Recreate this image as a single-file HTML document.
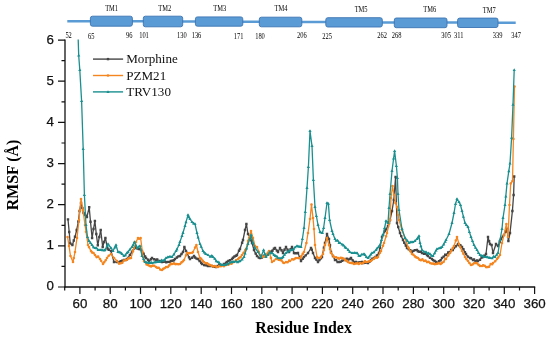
<!DOCTYPE html>
<html><head><meta charset="utf-8"><title>RMSF</title>
<style>
html,body{margin:0;padding:0;background:#fff}
svg{display:block}
.tk{font-family:"Liberation Sans",sans-serif;font-size:13.3px;fill:#111;stroke:#111;stroke-width:0.25px}
.al{font-family:"Liberation Serif",serif;font-weight:bold;font-size:15.9px;fill:#000}
.lg{font-family:"Liberation Serif",serif;font-size:13.1px;fill:#111}
.tm{font-family:"Liberation Serif",serif;font-size:7.2px;fill:#000}
.nm{font-family:"Liberation Serif",serif;font-size:7.2px;fill:#000}
</style></head><body>
<svg width="550" height="340" viewBox="0 0 550 340">
<rect width="550" height="340" fill="#fff"/>
<path d="M67.3 21.30H91.0M132.0 21.35H144.0M182.0 21.50H196.0M242.0 21.80H260.0M301.0 22.10H327.0M381.0 22.40H396.0M446.0 22.60H459.0M497.0 22.70H515.7" stroke="#5b9bd5" stroke-width="2.5" fill="none"/><rect x="90.4" y="16.2" width="42.0" height="10.0" rx="2" fill="#5b9bd5" stroke="#3b75b3" stroke-width="0.9"/><text transform="translate(111.6 11.2) scale(0.9 1)" text-anchor="middle" class="tm">TM1</text><rect x="143.3" y="16.2" width="39.4" height="10.6" rx="2" fill="#5b9bd5" stroke="#3b75b3" stroke-width="0.9"/><text transform="translate(164.8 11.4) scale(0.9 1)" text-anchor="middle" class="tm">TM2</text><rect x="195.4" y="16.9" width="47.4" height="9.3" rx="2" fill="#5b9bd5" stroke="#3b75b3" stroke-width="0.9"/><text transform="translate(219.8 11.4) scale(0.9 1)" text-anchor="middle" class="tm">TM3</text><rect x="259.3" y="17.2" width="42.5" height="9.6" rx="2" fill="#5b9bd5" stroke="#3b75b3" stroke-width="0.9"/><text transform="translate(281.0 11.1) scale(0.9 1)" text-anchor="middle" class="tm">TM4</text><rect x="325.8" y="17.7" width="56.5" height="9.3" rx="2" fill="#5b9bd5" stroke="#3b75b3" stroke-width="0.9"/><text transform="translate(361.1 11.9) scale(0.9 1)" text-anchor="middle" class="tm">TM5</text><rect x="394.3" y="18.0" width="52.7" height="9.7" rx="2" fill="#5b9bd5" stroke="#3b75b3" stroke-width="0.9"/><text transform="translate(429.8 11.9) scale(0.9 1)" text-anchor="middle" class="tm">TM6</text><rect x="457.6" y="18.1" width="40.4" height="9.4" rx="2" fill="#5b9bd5" stroke="#3b75b3" stroke-width="0.9"/><text transform="translate(489.3 13.0) scale(0.9 1)" text-anchor="middle" class="tm">TM7</text><text transform="translate(68.6 38.2) scale(0.9 1)" text-anchor="middle" class="nm">52</text><text transform="translate(91.3 38.8) scale(0.9 1)" text-anchor="middle" class="nm">65</text><text transform="translate(129.2 37.9) scale(0.9 1)" text-anchor="middle" class="nm">96</text><text transform="translate(144.0 38.2) scale(0.9 1)" text-anchor="middle" class="nm">101</text><text transform="translate(181.8 38.2) scale(0.9 1)" text-anchor="middle" class="nm">130</text><text transform="translate(196.5 38.0) scale(0.9 1)" text-anchor="middle" class="nm">136</text><text transform="translate(238.7 39.0) scale(0.9 1)" text-anchor="middle" class="nm">171</text><text transform="translate(260.0 38.8) scale(0.9 1)" text-anchor="middle" class="nm">180</text><text transform="translate(301.9 38.4) scale(0.9 1)" text-anchor="middle" class="nm">206</text><text transform="translate(327.2 39.2) scale(0.9 1)" text-anchor="middle" class="nm">225</text><text transform="translate(382.2 37.9) scale(0.9 1)" text-anchor="middle" class="nm">262</text><text transform="translate(396.6 38.4) scale(0.9 1)" text-anchor="middle" class="nm">268</text><text transform="translate(446.1 37.7) scale(0.9 1)" text-anchor="middle" class="nm">305</text><text transform="translate(458.7 37.8) scale(0.9 1)" text-anchor="middle" class="nm">311</text><text transform="translate(497.7 37.9) scale(0.9 1)" text-anchor="middle" class="nm">339</text><text transform="translate(516.2 38.4) scale(0.9 1)" text-anchor="middle" class="nm">347</text>
<path d="M65 39.5V287.6" stroke="#111" stroke-width="1.3" fill="none"/><path d="M64.4 287.0H535.2" stroke="#111" stroke-width="1.3" fill="none"/><path d="M58 287.0H65M61.5 266.4H65M58 245.8H65M61.5 225.3H65M58 204.7H65M61.5 184.1H65M58 163.6H65M61.5 143.0H65M58 122.4H65M61.5 101.8H65M58 81.2H65M61.5 60.7H65M58 40.1H65M64.7 287.0v3.5M79.9 287.0v7M95.1 287.0v3.5M110.2 287.0v7M125.4 287.0v3.5M140.5 287.0v7M155.7 287.0v3.5M170.8 287.0v7M186.0 287.0v3.5M201.2 287.0v7M216.3 287.0v3.5M231.5 287.0v7M246.6 287.0v3.5M261.8 287.0v7M276.9 287.0v3.5M292.1 287.0v7M307.3 287.0v3.5M322.4 287.0v7M337.6 287.0v3.5M352.7 287.0v7M367.9 287.0v3.5M383.0 287.0v7M398.2 287.0v3.5M413.4 287.0v7M428.5 287.0v3.5M443.7 287.0v7M458.8 287.0v3.5M474.0 287.0v7M489.1 287.0v3.5M504.3 287.0v7M519.5 287.0v3.5M534.6 287.0v7" stroke="#111" stroke-width="1.2" fill="none"/>
<polyline points="68.0,219.4 69.2,232.0 70.2,243.4 72.4,245.0 73.8,240.5 75.0,236.8 76.7,230.0 78.4,221.5 79.6,211.0 81.0,203.0 82.4,208.0 83.6,213.0 85.2,215.0 86.9,217.0 89.2,207.3 90.5,221.8 92.1,238.0 93.5,229.0 94.9,221.0 96.3,234.0 97.8,245.3 99.3,237.0 100.7,230.0 102.7,247.0 104.0,242.0 105.4,238.0 107.5,248.5 108.7,249.7 111.0,251.0 114.0,262.0 117.0,262.0 120.0,262.0 120.8,261.2 122.3,260.8 124.0,260.0 125.4,260.0 126.9,259.3 128.0,258.0 129.9,254.9 132.0,252.0 132.9,250.6 135.0,248.0 136.0,247.4 137.5,248.5 139.0,249.0 140.5,249.2 142.0,251.0 143.6,253.7 145.1,256.5 146.0,258.0 148.1,259.7 149.0,261.0 151.1,259.2 152.0,258.0 154.2,259.2 156.0,260.0 157.2,259.5 158.7,261.0 160.2,261.0 162.0,262.0 163.3,261.8 164.8,261.6 166.3,262.3 167.8,261.9 170.0,262.0 170.8,260.9 172.4,260.7 173.9,260.2 175.0,259.0 176.9,257.5 178.4,256.4 180.0,256.0 181.5,254.0 183.0,252.0 184.4,247.0 186.0,250.9 187.0,253.0 189.0,257.3 190.0,259.0 192.1,257.8 194.0,256.0 195.1,257.5 196.6,258.6 198.0,259.0 199.6,261.0 201.2,262.7 202.0,264.0 204.2,265.0 205.7,265.3 208.0,266.0 210.3,266.0 211.8,266.0 213.3,266.5 214.8,266.8 216.0,267.0 217.8,265.9 219.3,265.3 220.9,265.0 222.4,265.1 223.9,264.0 226.0,263.0 226.9,262.0 228.4,261.0 230.0,260.3 232.0,259.0 233.0,257.7 234.5,256.5 236.0,255.8 237.0,255.0 239.0,250.7 240.0,249.0 242.1,242.8 243.0,240.0 245.0,230.0 246.4,224.0 248.0,234.0 250.0,237.0 251.2,240.4 252.0,243.0 254.0,250.0 255.7,253.6 257.0,256.0 258.8,257.6 260.0,258.0 261.8,257.5 263.3,256.7 264.8,255.4 266.0,255.0 267.8,254.4 270.0,253.0 270.9,251.8 272.4,250.7 273.9,248.8 275.0,248.0 276.9,250.6 278.0,252.0 280.0,248.0 281.5,250.2 283.0,253.0 284.5,249.8 286.0,247.0 287.6,249.8 289.0,252.0 290.6,249.2 292.0,247.0 294.0,253.0 295.1,253.3 296.6,253.3 298.0,253.0 299.7,257.6 301.0,261.0 302.7,258.7 304.0,257.0 305.7,255.4 308.0,253.0 311.0,248.0 311.8,249.8 313.0,253.0 315.0,258.0 316.3,259.6 318.0,262.0 319.4,260.1 320.9,258.2 322.0,257.0 323.9,247.8 325.0,243.0 327.0,234.0 329.0,239.0 330.0,245.2 331.0,252.0 333.0,256.1 335.0,260.0 336.1,260.0 337.6,262.1 339.0,262.0 340.6,261.7 342.1,260.8 344.0,260.0 345.1,260.0 346.7,258.8 348.2,259.6 349.7,259.0 351.0,258.0 352.7,260.4 354.0,262.0 355.8,262.0 357.3,262.6 358.8,262.4 360.3,262.3 362.0,262.0 363.3,263.0 364.9,262.7 366.4,262.5 368.0,263.0 369.4,261.9 370.9,260.0 372.4,258.8 374.0,258.0 375.5,256.9 377.0,255.5 379.0,253.0 380.0,247.9 382.0,237.0 383.0,235.1 385.0,231.0 386.1,229.2 388.0,226.0 389.1,222.5 390.0,220.0 392.0,211.0 393.8,200.0 395.6,177.0 397.0,223.0 398.2,227.0 400.0,233.0 401.2,236.1 403.0,240.0 404.3,242.7 405.8,245.5 407.0,248.0 408.8,249.4 410.3,250.2 412.0,252.0 413.4,250.9 414.9,250.1 417.0,250.0 417.9,251.2 419.4,251.7 420.9,251.7 422.0,253.0 424.0,253.8 425.5,253.9 427.0,255.0 428.0,256.0 430.0,257.9 432.0,259.0 433.1,260.1 434.6,261.0 436.1,261.9 437.0,263.0 439.1,261.2 440.6,260.2 442.0,258.0 443.7,256.6 445.2,254.8 446.0,255.0 448.2,252.5 450.0,252.0 451.2,250.0 452.8,250.1 454.0,248.0 455.8,246.3 458.0,244.0 458.8,245.2 460.3,245.2 462.0,247.0 463.4,249.3 464.9,252.2 466.0,254.0 467.9,256.6 470.0,258.0 471.0,258.3 473.0,260.0 474.0,259.4 475.5,261.2 477.0,260.4 478.0,261.0 480.0,259.8 481.6,257.5 483.0,257.0 484.6,255.8 486.0,254.0 488.0,237.0 489.1,241.2 490.0,244.0 491.6,245.0 493.0,253.0 496.0,244.0 498.0,246.0 499.7,242.0 501.0,239.0 502.8,236.6 504.0,235.0 505.8,231.5 507.0,229.0 508.4,241.0 510.0,233.0 512.4,211.0 513.6,195.0 514.2,176.5" fill="none" stroke="#454545" stroke-width="1.3" stroke-linejoin="round"/>
<path d="M66.8 218.2h2.4v2.4h-2.4zM68.0 230.8h2.4v2.4h-2.4zM69.0 242.2h2.4v2.4h-2.4zM71.2 243.8h2.4v2.4h-2.4zM72.6 239.3h2.4v2.4h-2.4zM73.8 235.6h2.4v2.4h-2.4zM75.5 228.8h2.4v2.4h-2.4zM77.2 220.3h2.4v2.4h-2.4zM78.4 209.8h2.4v2.4h-2.4zM79.8 201.8h2.4v2.4h-2.4zM81.2 206.8h2.4v2.4h-2.4zM82.4 211.8h2.4v2.4h-2.4zM84.0 213.8h2.4v2.4h-2.4zM85.7 215.8h2.4v2.4h-2.4zM88.0 206.1h2.4v2.4h-2.4zM89.3 220.6h2.4v2.4h-2.4zM90.9 236.8h2.4v2.4h-2.4zM92.3 227.8h2.4v2.4h-2.4zM93.7 219.8h2.4v2.4h-2.4zM95.1 232.8h2.4v2.4h-2.4zM96.6 244.1h2.4v2.4h-2.4zM98.1 235.8h2.4v2.4h-2.4zM99.5 228.8h2.4v2.4h-2.4zM101.5 245.8h2.4v2.4h-2.4zM102.8 240.8h2.4v2.4h-2.4zM104.2 236.8h2.4v2.4h-2.4zM106.3 247.3h2.4v2.4h-2.4zM107.5 248.5h2.4v2.4h-2.4zM109.8 249.8h2.4v2.4h-2.4zM112.8 260.8h2.4v2.4h-2.4zM115.8 260.8h2.4v2.4h-2.4zM118.8 260.8h2.4v2.4h-2.4zM119.6 260.0h2.4v2.4h-2.4zM121.1 259.6h2.4v2.4h-2.4zM122.8 258.8h2.4v2.4h-2.4zM124.2 258.8h2.4v2.4h-2.4zM125.7 258.1h2.4v2.4h-2.4zM126.8 256.8h2.4v2.4h-2.4zM128.7 253.7h2.4v2.4h-2.4zM130.8 250.8h2.4v2.4h-2.4zM131.7 249.4h2.4v2.4h-2.4zM133.8 246.8h2.4v2.4h-2.4zM134.8 246.2h2.4v2.4h-2.4zM136.3 247.3h2.4v2.4h-2.4zM137.8 247.8h2.4v2.4h-2.4zM139.3 248.0h2.4v2.4h-2.4zM140.8 249.8h2.4v2.4h-2.4zM142.4 252.5h2.4v2.4h-2.4zM143.9 255.3h2.4v2.4h-2.4zM144.8 256.8h2.4v2.4h-2.4zM146.9 258.5h2.4v2.4h-2.4zM147.8 259.8h2.4v2.4h-2.4zM149.9 258.0h2.4v2.4h-2.4zM150.8 256.8h2.4v2.4h-2.4zM153.0 258.0h2.4v2.4h-2.4zM154.8 258.8h2.4v2.4h-2.4zM156.0 258.3h2.4v2.4h-2.4zM157.5 259.8h2.4v2.4h-2.4zM159.0 259.8h2.4v2.4h-2.4zM160.8 260.8h2.4v2.4h-2.4zM162.1 260.6h2.4v2.4h-2.4zM163.6 260.4h2.4v2.4h-2.4zM165.1 261.1h2.4v2.4h-2.4zM166.6 260.7h2.4v2.4h-2.4zM168.8 260.8h2.4v2.4h-2.4zM169.6 259.7h2.4v2.4h-2.4zM171.2 259.5h2.4v2.4h-2.4zM172.7 259.0h2.4v2.4h-2.4zM173.8 257.8h2.4v2.4h-2.4zM175.7 256.3h2.4v2.4h-2.4zM177.2 255.2h2.4v2.4h-2.4zM178.8 254.8h2.4v2.4h-2.4zM180.3 252.8h2.4v2.4h-2.4zM181.8 250.8h2.4v2.4h-2.4zM183.2 245.8h2.4v2.4h-2.4zM184.8 249.7h2.4v2.4h-2.4zM185.8 251.8h2.4v2.4h-2.4zM187.8 256.1h2.4v2.4h-2.4zM188.8 257.8h2.4v2.4h-2.4zM190.9 256.6h2.4v2.4h-2.4zM192.8 254.8h2.4v2.4h-2.4zM193.9 256.3h2.4v2.4h-2.4zM195.4 257.4h2.4v2.4h-2.4zM196.8 257.8h2.4v2.4h-2.4zM198.4 259.8h2.4v2.4h-2.4zM200.0 261.5h2.4v2.4h-2.4zM200.8 262.8h2.4v2.4h-2.4zM203.0 263.8h2.4v2.4h-2.4zM204.5 264.1h2.4v2.4h-2.4zM206.8 264.8h2.4v2.4h-2.4zM209.1 264.8h2.4v2.4h-2.4zM210.6 264.8h2.4v2.4h-2.4zM212.1 265.3h2.4v2.4h-2.4zM213.6 265.6h2.4v2.4h-2.4zM214.8 265.8h2.4v2.4h-2.4zM216.6 264.7h2.4v2.4h-2.4zM218.1 264.1h2.4v2.4h-2.4zM219.7 263.8h2.4v2.4h-2.4zM221.2 263.9h2.4v2.4h-2.4zM222.7 262.8h2.4v2.4h-2.4zM224.8 261.8h2.4v2.4h-2.4zM225.7 260.8h2.4v2.4h-2.4zM227.2 259.8h2.4v2.4h-2.4zM228.8 259.1h2.4v2.4h-2.4zM230.8 257.8h2.4v2.4h-2.4zM231.8 256.5h2.4v2.4h-2.4zM233.3 255.3h2.4v2.4h-2.4zM234.8 254.6h2.4v2.4h-2.4zM235.8 253.8h2.4v2.4h-2.4zM237.8 249.5h2.4v2.4h-2.4zM238.8 247.8h2.4v2.4h-2.4zM240.9 241.6h2.4v2.4h-2.4zM241.8 238.8h2.4v2.4h-2.4zM243.8 228.8h2.4v2.4h-2.4zM245.2 222.8h2.4v2.4h-2.4zM246.8 232.8h2.4v2.4h-2.4zM248.8 235.8h2.4v2.4h-2.4zM250.0 239.2h2.4v2.4h-2.4zM250.8 241.8h2.4v2.4h-2.4zM252.8 248.8h2.4v2.4h-2.4zM254.5 252.4h2.4v2.4h-2.4zM255.8 254.8h2.4v2.4h-2.4zM257.6 256.4h2.4v2.4h-2.4zM258.8 256.8h2.4v2.4h-2.4zM260.6 256.3h2.4v2.4h-2.4zM262.1 255.5h2.4v2.4h-2.4zM263.6 254.2h2.4v2.4h-2.4zM264.8 253.8h2.4v2.4h-2.4zM266.6 253.2h2.4v2.4h-2.4zM268.8 251.8h2.4v2.4h-2.4zM269.7 250.6h2.4v2.4h-2.4zM271.2 249.5h2.4v2.4h-2.4zM272.7 247.6h2.4v2.4h-2.4zM273.8 246.8h2.4v2.4h-2.4zM275.7 249.4h2.4v2.4h-2.4zM276.8 250.8h2.4v2.4h-2.4zM278.8 246.8h2.4v2.4h-2.4zM280.3 249.0h2.4v2.4h-2.4zM281.8 251.8h2.4v2.4h-2.4zM283.3 248.6h2.4v2.4h-2.4zM284.8 245.8h2.4v2.4h-2.4zM286.4 248.6h2.4v2.4h-2.4zM287.8 250.8h2.4v2.4h-2.4zM289.4 248.0h2.4v2.4h-2.4zM290.8 245.8h2.4v2.4h-2.4zM292.8 251.8h2.4v2.4h-2.4zM293.9 252.1h2.4v2.4h-2.4zM295.4 252.1h2.4v2.4h-2.4zM296.8 251.8h2.4v2.4h-2.4zM298.5 256.4h2.4v2.4h-2.4zM299.8 259.8h2.4v2.4h-2.4zM301.5 257.5h2.4v2.4h-2.4zM302.8 255.8h2.4v2.4h-2.4zM304.5 254.2h2.4v2.4h-2.4zM306.8 251.8h2.4v2.4h-2.4zM309.8 246.8h2.4v2.4h-2.4zM310.6 248.6h2.4v2.4h-2.4zM311.8 251.8h2.4v2.4h-2.4zM313.8 256.8h2.4v2.4h-2.4zM315.1 258.4h2.4v2.4h-2.4zM316.8 260.8h2.4v2.4h-2.4zM318.2 258.9h2.4v2.4h-2.4zM319.7 257.0h2.4v2.4h-2.4zM320.8 255.8h2.4v2.4h-2.4zM322.7 246.6h2.4v2.4h-2.4zM323.8 241.8h2.4v2.4h-2.4zM325.8 232.8h2.4v2.4h-2.4zM327.8 237.8h2.4v2.4h-2.4zM328.8 244.0h2.4v2.4h-2.4zM329.8 250.8h2.4v2.4h-2.4zM331.8 254.9h2.4v2.4h-2.4zM333.8 258.8h2.4v2.4h-2.4zM334.9 258.8h2.4v2.4h-2.4zM336.4 260.9h2.4v2.4h-2.4zM337.8 260.8h2.4v2.4h-2.4zM339.4 260.5h2.4v2.4h-2.4zM340.9 259.6h2.4v2.4h-2.4zM342.8 258.8h2.4v2.4h-2.4zM343.9 258.8h2.4v2.4h-2.4zM345.5 257.6h2.4v2.4h-2.4zM347.0 258.4h2.4v2.4h-2.4zM348.5 257.8h2.4v2.4h-2.4zM349.8 256.8h2.4v2.4h-2.4zM351.5 259.2h2.4v2.4h-2.4zM352.8 260.8h2.4v2.4h-2.4zM354.6 260.8h2.4v2.4h-2.4zM356.1 261.4h2.4v2.4h-2.4zM357.6 261.2h2.4v2.4h-2.4zM359.1 261.1h2.4v2.4h-2.4zM360.8 260.8h2.4v2.4h-2.4zM362.1 261.8h2.4v2.4h-2.4zM363.7 261.5h2.4v2.4h-2.4zM365.2 261.3h2.4v2.4h-2.4zM366.8 261.8h2.4v2.4h-2.4zM368.2 260.7h2.4v2.4h-2.4zM369.7 258.8h2.4v2.4h-2.4zM371.2 257.6h2.4v2.4h-2.4zM372.8 256.8h2.4v2.4h-2.4zM374.3 255.7h2.4v2.4h-2.4zM375.8 254.3h2.4v2.4h-2.4zM377.8 251.8h2.4v2.4h-2.4zM378.8 246.7h2.4v2.4h-2.4zM380.8 235.8h2.4v2.4h-2.4zM381.8 233.9h2.4v2.4h-2.4zM383.8 229.8h2.4v2.4h-2.4zM384.9 228.0h2.4v2.4h-2.4zM386.8 224.8h2.4v2.4h-2.4zM387.9 221.3h2.4v2.4h-2.4zM388.8 218.8h2.4v2.4h-2.4zM390.8 209.8h2.4v2.4h-2.4zM392.6 198.8h2.4v2.4h-2.4zM394.4 175.8h2.4v2.4h-2.4zM395.8 221.8h2.4v2.4h-2.4zM397.0 225.8h2.4v2.4h-2.4zM398.8 231.8h2.4v2.4h-2.4zM400.0 234.9h2.4v2.4h-2.4zM401.8 238.8h2.4v2.4h-2.4zM403.1 241.5h2.4v2.4h-2.4zM404.6 244.3h2.4v2.4h-2.4zM405.8 246.8h2.4v2.4h-2.4zM407.6 248.2h2.4v2.4h-2.4zM409.1 249.0h2.4v2.4h-2.4zM410.8 250.8h2.4v2.4h-2.4zM412.2 249.7h2.4v2.4h-2.4zM413.7 248.9h2.4v2.4h-2.4zM415.8 248.8h2.4v2.4h-2.4zM416.7 250.0h2.4v2.4h-2.4zM418.2 250.5h2.4v2.4h-2.4zM419.7 250.5h2.4v2.4h-2.4zM420.8 251.8h2.4v2.4h-2.4zM422.8 252.6h2.4v2.4h-2.4zM424.3 252.7h2.4v2.4h-2.4zM425.8 253.8h2.4v2.4h-2.4zM426.8 254.8h2.4v2.4h-2.4zM428.8 256.7h2.4v2.4h-2.4zM430.8 257.8h2.4v2.4h-2.4zM431.9 258.9h2.4v2.4h-2.4zM433.4 259.8h2.4v2.4h-2.4zM434.9 260.7h2.4v2.4h-2.4zM435.8 261.8h2.4v2.4h-2.4zM437.9 260.0h2.4v2.4h-2.4zM439.4 259.0h2.4v2.4h-2.4zM440.8 256.8h2.4v2.4h-2.4zM442.5 255.4h2.4v2.4h-2.4zM444.0 253.6h2.4v2.4h-2.4zM444.8 253.8h2.4v2.4h-2.4zM447.0 251.3h2.4v2.4h-2.4zM448.8 250.8h2.4v2.4h-2.4zM450.0 248.8h2.4v2.4h-2.4zM451.6 248.9h2.4v2.4h-2.4zM452.8 246.8h2.4v2.4h-2.4zM454.6 245.1h2.4v2.4h-2.4zM456.8 242.8h2.4v2.4h-2.4zM457.6 244.0h2.4v2.4h-2.4zM459.1 244.0h2.4v2.4h-2.4zM460.8 245.8h2.4v2.4h-2.4zM462.2 248.1h2.4v2.4h-2.4zM463.7 251.0h2.4v2.4h-2.4zM464.8 252.8h2.4v2.4h-2.4zM466.7 255.4h2.4v2.4h-2.4zM468.8 256.8h2.4v2.4h-2.4zM469.8 257.1h2.4v2.4h-2.4zM471.8 258.8h2.4v2.4h-2.4zM472.8 258.2h2.4v2.4h-2.4zM474.3 260.0h2.4v2.4h-2.4zM475.8 259.2h2.4v2.4h-2.4zM476.8 259.8h2.4v2.4h-2.4zM478.8 258.6h2.4v2.4h-2.4zM480.4 256.3h2.4v2.4h-2.4zM481.8 255.8h2.4v2.4h-2.4zM483.4 254.6h2.4v2.4h-2.4zM484.8 252.8h2.4v2.4h-2.4zM486.8 235.8h2.4v2.4h-2.4zM487.9 240.0h2.4v2.4h-2.4zM488.8 242.8h2.4v2.4h-2.4zM490.4 243.8h2.4v2.4h-2.4zM491.8 251.8h2.4v2.4h-2.4zM494.8 242.8h2.4v2.4h-2.4zM496.8 244.8h2.4v2.4h-2.4zM498.5 240.8h2.4v2.4h-2.4zM499.8 237.8h2.4v2.4h-2.4zM501.6 235.4h2.4v2.4h-2.4zM502.8 233.8h2.4v2.4h-2.4zM504.6 230.3h2.4v2.4h-2.4zM505.8 227.8h2.4v2.4h-2.4zM507.2 239.8h2.4v2.4h-2.4zM508.8 231.8h2.4v2.4h-2.4zM511.2 209.8h2.4v2.4h-2.4zM512.4 193.8h2.4v2.4h-2.4zM513.0 175.3h2.4v2.4h-2.4z" fill="#454545"/>
<polyline points="67.6,237.0 69.0,246.0 70.5,256.0 73.0,262.0 73.8,258.1 75.0,252.0 77.0,238.0 79.0,220.0 79.9,210.6 81.0,199.0 83.0,210.0 85.0,225.0 86.0,231.7 88.0,245.0 89.0,247.1 91.0,251.0 92.0,252.4 93.5,253.0 95.0,255.0 96.6,257.1 98.1,256.6 100.0,259.0 101.1,260.7 103.0,264.0 104.2,262.2 105.7,260.2 107.0,258.0 108.7,255.8 111.0,254.0 114.0,258.0 117.0,261.0 119.0,263.6 120.8,263.3 122.3,262.8 123.9,260.5 126.0,260.0 126.9,259.8 128.4,258.2 129.9,258.2 131.0,258.0 132.9,251.3 134.0,248.0 136.0,242.0 138.0,238.0 139.0,238.8 140.6,238.0 142.4,252.0 144.0,261.0 145.1,262.0 146.6,264.4 148.0,265.0 149.6,265.9 151.1,266.4 152.7,265.6 154.2,265.8 156.0,267.0 157.2,267.8 158.7,267.8 160.2,269.5 162.0,270.0 163.3,268.9 164.8,268.0 166.0,267.0 167.8,266.9 169.3,265.4 170.8,263.9 172.0,264.0 173.9,263.4 175.4,264.1 176.9,264.0 178.4,264.2 180.0,264.0 181.5,262.4 183.0,261.3 184.0,260.0 186.0,255.3 187.0,253.0 189.0,253.2 190.0,253.0 192.1,252.8 193.0,252.0 195.1,247.5 196.4,245.0 198.0,252.0 200.0,258.0 201.2,258.9 202.7,260.7 204.0,262.0 205.7,263.2 207.2,263.2 208.7,264.5 210.0,265.0 211.8,265.7 213.3,266.5 214.8,266.0 216.3,266.8 218.0,267.0 219.3,266.1 220.9,266.3 222.4,265.3 223.9,266.3 226.0,265.0 226.9,264.5 228.4,264.7 230.0,263.4 231.5,263.7 233.0,262.2 234.0,262.0 236.0,260.2 238.0,259.0 239.0,258.1 240.6,257.1 242.0,255.0 243.6,252.8 245.1,250.4 246.0,249.0 248.1,240.9 249.0,238.0 251.0,231.0 253.0,238.0 255.0,246.0 257.0,247.0 258.8,251.7 260.0,255.0 261.8,255.7 263.0,257.0 264.8,256.2 266.0,255.0 267.8,252.8 269.0,251.0 270.9,257.9 272.0,262.0 273.9,260.8 276.0,259.0 276.9,258.5 278.5,259.7 280.0,260.0 281.5,260.4 283.0,262.5 284.0,263.0 286.0,262.1 287.6,262.3 289.1,260.5 290.0,261.0 292.1,259.2 293.6,259.5 295.1,258.5 296.0,258.0 298.2,258.1 300.0,258.0 301.2,256.4 302.7,253.9 304.0,252.0 306.4,243.0 308.0,233.0 310.0,219.0 311.5,204.5 313.0,218.0 314.0,229.0 315.0,245.0 317.0,257.0 317.9,257.8 320.0,258.0 320.9,256.8 323.0,254.0 323.9,250.1 325.0,245.0 327.0,238.0 329.0,245.0 330.0,249.1 331.0,253.0 333.0,255.5 334.0,257.0 336.1,257.3 338.0,258.0 339.1,258.7 340.6,257.7 342.0,258.0 343.6,258.5 345.1,260.0 346.7,260.9 348.0,262.0 349.7,262.8 351.2,263.0 352.7,263.1 354.0,264.0 355.8,263.5 357.3,263.3 358.8,263.9 360.0,263.0 361.8,263.6 363.3,262.7 364.9,261.4 366.0,262.0 367.9,261.8 369.4,261.2 370.9,260.9 372.0,260.0 373.9,258.8 375.5,257.5 377.0,257.7 378.0,257.0 380.0,252.8 381.0,251.0 383.0,245.7 384.0,243.0 386.1,236.3 387.0,233.0 389.1,223.8 390.0,220.0 391.0,198.0 392.5,186.0 394.0,195.0 395.5,203.0 397.0,207.0 398.2,215.0 399.0,220.0 402.0,230.0 405.0,238.0 408.0,247.0 408.8,248.2 410.3,251.3 412.0,254.0 413.4,254.8 414.9,256.4 416.4,257.4 418.0,258.0 419.4,259.6 420.9,260.3 422.4,259.4 424.0,261.0 425.5,260.6 427.0,262.1 428.5,261.7 430.0,263.0 431.5,263.5 433.1,263.6 434.6,264.1 436.0,264.0 437.6,263.6 439.1,263.1 440.6,264.0 442.0,263.0 443.7,261.7 445.2,258.9 446.0,259.0 448.2,255.5 450.0,253.0 451.2,250.9 452.8,248.1 454.0,246.0 455.8,240.6 457.0,237.0 459.0,244.0 460.3,247.3 462.0,251.0 463.4,253.7 465.0,257.0 466.4,259.1 468.0,261.0 469.4,263.0 471.0,265.0 472.5,264.5 474.0,263.2 476.0,263.0 477.0,263.3 478.5,264.7 480.0,265.9 482.0,266.0 483.1,265.4 484.6,265.8 486.1,267.1 488.0,267.0 489.1,266.7 490.7,264.1 492.2,264.3 493.0,263.0 495.2,261.3 497.0,259.0 498.2,257.5 500.0,255.0 502.0,243.0 504.0,235.0 506.4,224.0 508.0,237.0 509.5,205.0 510.7,183.5 512.5,181.0 513.4,138.9 514.5,86.5" fill="none" stroke="#f5861f" stroke-width="1.3" stroke-linejoin="round"/>
<path d="M66.3 237.0a1.3 1.3 0 1 0 2.6 0a1.3 1.3 0 1 0 -2.6 0zM67.7 246.0a1.3 1.3 0 1 0 2.6 0a1.3 1.3 0 1 0 -2.6 0zM69.2 256.0a1.3 1.3 0 1 0 2.6 0a1.3 1.3 0 1 0 -2.6 0zM71.7 262.0a1.3 1.3 0 1 0 2.6 0a1.3 1.3 0 1 0 -2.6 0zM72.5 258.1a1.3 1.3 0 1 0 2.6 0a1.3 1.3 0 1 0 -2.6 0zM73.7 252.0a1.3 1.3 0 1 0 2.6 0a1.3 1.3 0 1 0 -2.6 0zM75.7 238.0a1.3 1.3 0 1 0 2.6 0a1.3 1.3 0 1 0 -2.6 0zM77.7 220.0a1.3 1.3 0 1 0 2.6 0a1.3 1.3 0 1 0 -2.6 0zM78.6 210.6a1.3 1.3 0 1 0 2.6 0a1.3 1.3 0 1 0 -2.6 0zM79.7 199.0a1.3 1.3 0 1 0 2.6 0a1.3 1.3 0 1 0 -2.6 0zM81.7 210.0a1.3 1.3 0 1 0 2.6 0a1.3 1.3 0 1 0 -2.6 0zM83.7 225.0a1.3 1.3 0 1 0 2.6 0a1.3 1.3 0 1 0 -2.6 0zM84.7 231.7a1.3 1.3 0 1 0 2.6 0a1.3 1.3 0 1 0 -2.6 0zM86.7 245.0a1.3 1.3 0 1 0 2.6 0a1.3 1.3 0 1 0 -2.6 0zM87.7 247.1a1.3 1.3 0 1 0 2.6 0a1.3 1.3 0 1 0 -2.6 0zM89.7 251.0a1.3 1.3 0 1 0 2.6 0a1.3 1.3 0 1 0 -2.6 0zM90.7 252.4a1.3 1.3 0 1 0 2.6 0a1.3 1.3 0 1 0 -2.6 0zM92.2 253.0a1.3 1.3 0 1 0 2.6 0a1.3 1.3 0 1 0 -2.6 0zM93.7 255.0a1.3 1.3 0 1 0 2.6 0a1.3 1.3 0 1 0 -2.6 0zM95.3 257.1a1.3 1.3 0 1 0 2.6 0a1.3 1.3 0 1 0 -2.6 0zM96.8 256.6a1.3 1.3 0 1 0 2.6 0a1.3 1.3 0 1 0 -2.6 0zM98.7 259.0a1.3 1.3 0 1 0 2.6 0a1.3 1.3 0 1 0 -2.6 0zM99.8 260.7a1.3 1.3 0 1 0 2.6 0a1.3 1.3 0 1 0 -2.6 0zM101.7 264.0a1.3 1.3 0 1 0 2.6 0a1.3 1.3 0 1 0 -2.6 0zM102.9 262.2a1.3 1.3 0 1 0 2.6 0a1.3 1.3 0 1 0 -2.6 0zM104.4 260.2a1.3 1.3 0 1 0 2.6 0a1.3 1.3 0 1 0 -2.6 0zM105.7 258.0a1.3 1.3 0 1 0 2.6 0a1.3 1.3 0 1 0 -2.6 0zM107.4 255.8a1.3 1.3 0 1 0 2.6 0a1.3 1.3 0 1 0 -2.6 0zM109.7 254.0a1.3 1.3 0 1 0 2.6 0a1.3 1.3 0 1 0 -2.6 0zM112.7 258.0a1.3 1.3 0 1 0 2.6 0a1.3 1.3 0 1 0 -2.6 0zM115.7 261.0a1.3 1.3 0 1 0 2.6 0a1.3 1.3 0 1 0 -2.6 0zM117.7 263.6a1.3 1.3 0 1 0 2.6 0a1.3 1.3 0 1 0 -2.6 0zM119.5 263.3a1.3 1.3 0 1 0 2.6 0a1.3 1.3 0 1 0 -2.6 0zM121.0 262.8a1.3 1.3 0 1 0 2.6 0a1.3 1.3 0 1 0 -2.6 0zM122.6 260.5a1.3 1.3 0 1 0 2.6 0a1.3 1.3 0 1 0 -2.6 0zM124.7 260.0a1.3 1.3 0 1 0 2.6 0a1.3 1.3 0 1 0 -2.6 0zM125.6 259.8a1.3 1.3 0 1 0 2.6 0a1.3 1.3 0 1 0 -2.6 0zM127.1 258.2a1.3 1.3 0 1 0 2.6 0a1.3 1.3 0 1 0 -2.6 0zM128.6 258.2a1.3 1.3 0 1 0 2.6 0a1.3 1.3 0 1 0 -2.6 0zM129.7 258.0a1.3 1.3 0 1 0 2.6 0a1.3 1.3 0 1 0 -2.6 0zM131.6 251.3a1.3 1.3 0 1 0 2.6 0a1.3 1.3 0 1 0 -2.6 0zM132.7 248.0a1.3 1.3 0 1 0 2.6 0a1.3 1.3 0 1 0 -2.6 0zM134.7 242.0a1.3 1.3 0 1 0 2.6 0a1.3 1.3 0 1 0 -2.6 0zM136.7 238.0a1.3 1.3 0 1 0 2.6 0a1.3 1.3 0 1 0 -2.6 0zM137.7 238.8a1.3 1.3 0 1 0 2.6 0a1.3 1.3 0 1 0 -2.6 0zM139.3 238.0a1.3 1.3 0 1 0 2.6 0a1.3 1.3 0 1 0 -2.6 0zM141.1 252.0a1.3 1.3 0 1 0 2.6 0a1.3 1.3 0 1 0 -2.6 0zM142.7 261.0a1.3 1.3 0 1 0 2.6 0a1.3 1.3 0 1 0 -2.6 0zM143.8 262.0a1.3 1.3 0 1 0 2.6 0a1.3 1.3 0 1 0 -2.6 0zM145.3 264.4a1.3 1.3 0 1 0 2.6 0a1.3 1.3 0 1 0 -2.6 0zM146.7 265.0a1.3 1.3 0 1 0 2.6 0a1.3 1.3 0 1 0 -2.6 0zM148.3 265.9a1.3 1.3 0 1 0 2.6 0a1.3 1.3 0 1 0 -2.6 0zM149.8 266.4a1.3 1.3 0 1 0 2.6 0a1.3 1.3 0 1 0 -2.6 0zM151.4 265.6a1.3 1.3 0 1 0 2.6 0a1.3 1.3 0 1 0 -2.6 0zM152.9 265.8a1.3 1.3 0 1 0 2.6 0a1.3 1.3 0 1 0 -2.6 0zM154.7 267.0a1.3 1.3 0 1 0 2.6 0a1.3 1.3 0 1 0 -2.6 0zM155.9 267.8a1.3 1.3 0 1 0 2.6 0a1.3 1.3 0 1 0 -2.6 0zM157.4 267.8a1.3 1.3 0 1 0 2.6 0a1.3 1.3 0 1 0 -2.6 0zM158.9 269.5a1.3 1.3 0 1 0 2.6 0a1.3 1.3 0 1 0 -2.6 0zM160.7 270.0a1.3 1.3 0 1 0 2.6 0a1.3 1.3 0 1 0 -2.6 0zM162.0 268.9a1.3 1.3 0 1 0 2.6 0a1.3 1.3 0 1 0 -2.6 0zM163.5 268.0a1.3 1.3 0 1 0 2.6 0a1.3 1.3 0 1 0 -2.6 0zM164.7 267.0a1.3 1.3 0 1 0 2.6 0a1.3 1.3 0 1 0 -2.6 0zM166.5 266.9a1.3 1.3 0 1 0 2.6 0a1.3 1.3 0 1 0 -2.6 0zM168.0 265.4a1.3 1.3 0 1 0 2.6 0a1.3 1.3 0 1 0 -2.6 0zM169.5 263.9a1.3 1.3 0 1 0 2.6 0a1.3 1.3 0 1 0 -2.6 0zM170.7 264.0a1.3 1.3 0 1 0 2.6 0a1.3 1.3 0 1 0 -2.6 0zM172.6 263.4a1.3 1.3 0 1 0 2.6 0a1.3 1.3 0 1 0 -2.6 0zM174.1 264.1a1.3 1.3 0 1 0 2.6 0a1.3 1.3 0 1 0 -2.6 0zM175.6 264.0a1.3 1.3 0 1 0 2.6 0a1.3 1.3 0 1 0 -2.6 0zM177.1 264.2a1.3 1.3 0 1 0 2.6 0a1.3 1.3 0 1 0 -2.6 0zM178.7 264.0a1.3 1.3 0 1 0 2.6 0a1.3 1.3 0 1 0 -2.6 0zM180.2 262.4a1.3 1.3 0 1 0 2.6 0a1.3 1.3 0 1 0 -2.6 0zM181.7 261.3a1.3 1.3 0 1 0 2.6 0a1.3 1.3 0 1 0 -2.6 0zM182.7 260.0a1.3 1.3 0 1 0 2.6 0a1.3 1.3 0 1 0 -2.6 0zM184.7 255.3a1.3 1.3 0 1 0 2.6 0a1.3 1.3 0 1 0 -2.6 0zM185.7 253.0a1.3 1.3 0 1 0 2.6 0a1.3 1.3 0 1 0 -2.6 0zM187.7 253.2a1.3 1.3 0 1 0 2.6 0a1.3 1.3 0 1 0 -2.6 0zM188.7 253.0a1.3 1.3 0 1 0 2.6 0a1.3 1.3 0 1 0 -2.6 0zM190.8 252.8a1.3 1.3 0 1 0 2.6 0a1.3 1.3 0 1 0 -2.6 0zM191.7 252.0a1.3 1.3 0 1 0 2.6 0a1.3 1.3 0 1 0 -2.6 0zM193.8 247.5a1.3 1.3 0 1 0 2.6 0a1.3 1.3 0 1 0 -2.6 0zM195.1 245.0a1.3 1.3 0 1 0 2.6 0a1.3 1.3 0 1 0 -2.6 0zM196.7 252.0a1.3 1.3 0 1 0 2.6 0a1.3 1.3 0 1 0 -2.6 0zM198.7 258.0a1.3 1.3 0 1 0 2.6 0a1.3 1.3 0 1 0 -2.6 0zM199.9 258.9a1.3 1.3 0 1 0 2.6 0a1.3 1.3 0 1 0 -2.6 0zM201.4 260.7a1.3 1.3 0 1 0 2.6 0a1.3 1.3 0 1 0 -2.6 0zM202.7 262.0a1.3 1.3 0 1 0 2.6 0a1.3 1.3 0 1 0 -2.6 0zM204.4 263.2a1.3 1.3 0 1 0 2.6 0a1.3 1.3 0 1 0 -2.6 0zM205.9 263.2a1.3 1.3 0 1 0 2.6 0a1.3 1.3 0 1 0 -2.6 0zM207.4 264.5a1.3 1.3 0 1 0 2.6 0a1.3 1.3 0 1 0 -2.6 0zM208.7 265.0a1.3 1.3 0 1 0 2.6 0a1.3 1.3 0 1 0 -2.6 0zM210.5 265.7a1.3 1.3 0 1 0 2.6 0a1.3 1.3 0 1 0 -2.6 0zM212.0 266.5a1.3 1.3 0 1 0 2.6 0a1.3 1.3 0 1 0 -2.6 0zM213.5 266.0a1.3 1.3 0 1 0 2.6 0a1.3 1.3 0 1 0 -2.6 0zM215.0 266.8a1.3 1.3 0 1 0 2.6 0a1.3 1.3 0 1 0 -2.6 0zM216.7 267.0a1.3 1.3 0 1 0 2.6 0a1.3 1.3 0 1 0 -2.6 0zM218.0 266.1a1.3 1.3 0 1 0 2.6 0a1.3 1.3 0 1 0 -2.6 0zM219.6 266.3a1.3 1.3 0 1 0 2.6 0a1.3 1.3 0 1 0 -2.6 0zM221.1 265.3a1.3 1.3 0 1 0 2.6 0a1.3 1.3 0 1 0 -2.6 0zM222.6 266.3a1.3 1.3 0 1 0 2.6 0a1.3 1.3 0 1 0 -2.6 0zM224.7 265.0a1.3 1.3 0 1 0 2.6 0a1.3 1.3 0 1 0 -2.6 0zM225.6 264.5a1.3 1.3 0 1 0 2.6 0a1.3 1.3 0 1 0 -2.6 0zM227.1 264.7a1.3 1.3 0 1 0 2.6 0a1.3 1.3 0 1 0 -2.6 0zM228.7 263.4a1.3 1.3 0 1 0 2.6 0a1.3 1.3 0 1 0 -2.6 0zM230.2 263.7a1.3 1.3 0 1 0 2.6 0a1.3 1.3 0 1 0 -2.6 0zM231.7 262.2a1.3 1.3 0 1 0 2.6 0a1.3 1.3 0 1 0 -2.6 0zM232.7 262.0a1.3 1.3 0 1 0 2.6 0a1.3 1.3 0 1 0 -2.6 0zM234.7 260.2a1.3 1.3 0 1 0 2.6 0a1.3 1.3 0 1 0 -2.6 0zM236.7 259.0a1.3 1.3 0 1 0 2.6 0a1.3 1.3 0 1 0 -2.6 0zM237.7 258.1a1.3 1.3 0 1 0 2.6 0a1.3 1.3 0 1 0 -2.6 0zM239.3 257.1a1.3 1.3 0 1 0 2.6 0a1.3 1.3 0 1 0 -2.6 0zM240.7 255.0a1.3 1.3 0 1 0 2.6 0a1.3 1.3 0 1 0 -2.6 0zM242.3 252.8a1.3 1.3 0 1 0 2.6 0a1.3 1.3 0 1 0 -2.6 0zM243.8 250.4a1.3 1.3 0 1 0 2.6 0a1.3 1.3 0 1 0 -2.6 0zM244.7 249.0a1.3 1.3 0 1 0 2.6 0a1.3 1.3 0 1 0 -2.6 0zM246.8 240.9a1.3 1.3 0 1 0 2.6 0a1.3 1.3 0 1 0 -2.6 0zM247.7 238.0a1.3 1.3 0 1 0 2.6 0a1.3 1.3 0 1 0 -2.6 0zM249.7 231.0a1.3 1.3 0 1 0 2.6 0a1.3 1.3 0 1 0 -2.6 0zM251.7 238.0a1.3 1.3 0 1 0 2.6 0a1.3 1.3 0 1 0 -2.6 0zM253.7 246.0a1.3 1.3 0 1 0 2.6 0a1.3 1.3 0 1 0 -2.6 0zM255.7 247.0a1.3 1.3 0 1 0 2.6 0a1.3 1.3 0 1 0 -2.6 0zM257.5 251.7a1.3 1.3 0 1 0 2.6 0a1.3 1.3 0 1 0 -2.6 0zM258.7 255.0a1.3 1.3 0 1 0 2.6 0a1.3 1.3 0 1 0 -2.6 0zM260.5 255.7a1.3 1.3 0 1 0 2.6 0a1.3 1.3 0 1 0 -2.6 0zM261.7 257.0a1.3 1.3 0 1 0 2.6 0a1.3 1.3 0 1 0 -2.6 0zM263.5 256.2a1.3 1.3 0 1 0 2.6 0a1.3 1.3 0 1 0 -2.6 0zM264.7 255.0a1.3 1.3 0 1 0 2.6 0a1.3 1.3 0 1 0 -2.6 0zM266.5 252.8a1.3 1.3 0 1 0 2.6 0a1.3 1.3 0 1 0 -2.6 0zM267.7 251.0a1.3 1.3 0 1 0 2.6 0a1.3 1.3 0 1 0 -2.6 0zM269.6 257.9a1.3 1.3 0 1 0 2.6 0a1.3 1.3 0 1 0 -2.6 0zM270.7 262.0a1.3 1.3 0 1 0 2.6 0a1.3 1.3 0 1 0 -2.6 0zM272.6 260.8a1.3 1.3 0 1 0 2.6 0a1.3 1.3 0 1 0 -2.6 0zM274.7 259.0a1.3 1.3 0 1 0 2.6 0a1.3 1.3 0 1 0 -2.6 0zM275.6 258.5a1.3 1.3 0 1 0 2.6 0a1.3 1.3 0 1 0 -2.6 0zM277.2 259.7a1.3 1.3 0 1 0 2.6 0a1.3 1.3 0 1 0 -2.6 0zM278.7 260.0a1.3 1.3 0 1 0 2.6 0a1.3 1.3 0 1 0 -2.6 0zM280.2 260.4a1.3 1.3 0 1 0 2.6 0a1.3 1.3 0 1 0 -2.6 0zM281.7 262.5a1.3 1.3 0 1 0 2.6 0a1.3 1.3 0 1 0 -2.6 0zM282.7 263.0a1.3 1.3 0 1 0 2.6 0a1.3 1.3 0 1 0 -2.6 0zM284.7 262.1a1.3 1.3 0 1 0 2.6 0a1.3 1.3 0 1 0 -2.6 0zM286.3 262.3a1.3 1.3 0 1 0 2.6 0a1.3 1.3 0 1 0 -2.6 0zM287.8 260.5a1.3 1.3 0 1 0 2.6 0a1.3 1.3 0 1 0 -2.6 0zM288.7 261.0a1.3 1.3 0 1 0 2.6 0a1.3 1.3 0 1 0 -2.6 0zM290.8 259.2a1.3 1.3 0 1 0 2.6 0a1.3 1.3 0 1 0 -2.6 0zM292.3 259.5a1.3 1.3 0 1 0 2.6 0a1.3 1.3 0 1 0 -2.6 0zM293.8 258.5a1.3 1.3 0 1 0 2.6 0a1.3 1.3 0 1 0 -2.6 0zM294.7 258.0a1.3 1.3 0 1 0 2.6 0a1.3 1.3 0 1 0 -2.6 0zM296.9 258.1a1.3 1.3 0 1 0 2.6 0a1.3 1.3 0 1 0 -2.6 0zM298.7 258.0a1.3 1.3 0 1 0 2.6 0a1.3 1.3 0 1 0 -2.6 0zM299.9 256.4a1.3 1.3 0 1 0 2.6 0a1.3 1.3 0 1 0 -2.6 0zM301.4 253.9a1.3 1.3 0 1 0 2.6 0a1.3 1.3 0 1 0 -2.6 0zM302.7 252.0a1.3 1.3 0 1 0 2.6 0a1.3 1.3 0 1 0 -2.6 0zM305.1 243.0a1.3 1.3 0 1 0 2.6 0a1.3 1.3 0 1 0 -2.6 0zM306.7 233.0a1.3 1.3 0 1 0 2.6 0a1.3 1.3 0 1 0 -2.6 0zM308.7 219.0a1.3 1.3 0 1 0 2.6 0a1.3 1.3 0 1 0 -2.6 0zM310.2 204.5a1.3 1.3 0 1 0 2.6 0a1.3 1.3 0 1 0 -2.6 0zM311.7 218.0a1.3 1.3 0 1 0 2.6 0a1.3 1.3 0 1 0 -2.6 0zM312.7 229.0a1.3 1.3 0 1 0 2.6 0a1.3 1.3 0 1 0 -2.6 0zM313.7 245.0a1.3 1.3 0 1 0 2.6 0a1.3 1.3 0 1 0 -2.6 0zM315.7 257.0a1.3 1.3 0 1 0 2.6 0a1.3 1.3 0 1 0 -2.6 0zM316.6 257.8a1.3 1.3 0 1 0 2.6 0a1.3 1.3 0 1 0 -2.6 0zM318.7 258.0a1.3 1.3 0 1 0 2.6 0a1.3 1.3 0 1 0 -2.6 0zM319.6 256.8a1.3 1.3 0 1 0 2.6 0a1.3 1.3 0 1 0 -2.6 0zM321.7 254.0a1.3 1.3 0 1 0 2.6 0a1.3 1.3 0 1 0 -2.6 0zM322.6 250.1a1.3 1.3 0 1 0 2.6 0a1.3 1.3 0 1 0 -2.6 0zM323.7 245.0a1.3 1.3 0 1 0 2.6 0a1.3 1.3 0 1 0 -2.6 0zM325.7 238.0a1.3 1.3 0 1 0 2.6 0a1.3 1.3 0 1 0 -2.6 0zM327.7 245.0a1.3 1.3 0 1 0 2.6 0a1.3 1.3 0 1 0 -2.6 0zM328.7 249.1a1.3 1.3 0 1 0 2.6 0a1.3 1.3 0 1 0 -2.6 0zM329.7 253.0a1.3 1.3 0 1 0 2.6 0a1.3 1.3 0 1 0 -2.6 0zM331.7 255.5a1.3 1.3 0 1 0 2.6 0a1.3 1.3 0 1 0 -2.6 0zM332.7 257.0a1.3 1.3 0 1 0 2.6 0a1.3 1.3 0 1 0 -2.6 0zM334.8 257.3a1.3 1.3 0 1 0 2.6 0a1.3 1.3 0 1 0 -2.6 0zM336.7 258.0a1.3 1.3 0 1 0 2.6 0a1.3 1.3 0 1 0 -2.6 0zM337.8 258.7a1.3 1.3 0 1 0 2.6 0a1.3 1.3 0 1 0 -2.6 0zM339.3 257.7a1.3 1.3 0 1 0 2.6 0a1.3 1.3 0 1 0 -2.6 0zM340.7 258.0a1.3 1.3 0 1 0 2.6 0a1.3 1.3 0 1 0 -2.6 0zM342.3 258.5a1.3 1.3 0 1 0 2.6 0a1.3 1.3 0 1 0 -2.6 0zM343.8 260.0a1.3 1.3 0 1 0 2.6 0a1.3 1.3 0 1 0 -2.6 0zM345.4 260.9a1.3 1.3 0 1 0 2.6 0a1.3 1.3 0 1 0 -2.6 0zM346.7 262.0a1.3 1.3 0 1 0 2.6 0a1.3 1.3 0 1 0 -2.6 0zM348.4 262.8a1.3 1.3 0 1 0 2.6 0a1.3 1.3 0 1 0 -2.6 0zM349.9 263.0a1.3 1.3 0 1 0 2.6 0a1.3 1.3 0 1 0 -2.6 0zM351.4 263.1a1.3 1.3 0 1 0 2.6 0a1.3 1.3 0 1 0 -2.6 0zM352.7 264.0a1.3 1.3 0 1 0 2.6 0a1.3 1.3 0 1 0 -2.6 0zM354.5 263.5a1.3 1.3 0 1 0 2.6 0a1.3 1.3 0 1 0 -2.6 0zM356.0 263.3a1.3 1.3 0 1 0 2.6 0a1.3 1.3 0 1 0 -2.6 0zM357.5 263.9a1.3 1.3 0 1 0 2.6 0a1.3 1.3 0 1 0 -2.6 0zM358.7 263.0a1.3 1.3 0 1 0 2.6 0a1.3 1.3 0 1 0 -2.6 0zM360.5 263.6a1.3 1.3 0 1 0 2.6 0a1.3 1.3 0 1 0 -2.6 0zM362.0 262.7a1.3 1.3 0 1 0 2.6 0a1.3 1.3 0 1 0 -2.6 0zM363.6 261.4a1.3 1.3 0 1 0 2.6 0a1.3 1.3 0 1 0 -2.6 0zM364.7 262.0a1.3 1.3 0 1 0 2.6 0a1.3 1.3 0 1 0 -2.6 0zM366.6 261.8a1.3 1.3 0 1 0 2.6 0a1.3 1.3 0 1 0 -2.6 0zM368.1 261.2a1.3 1.3 0 1 0 2.6 0a1.3 1.3 0 1 0 -2.6 0zM369.6 260.9a1.3 1.3 0 1 0 2.6 0a1.3 1.3 0 1 0 -2.6 0zM370.7 260.0a1.3 1.3 0 1 0 2.6 0a1.3 1.3 0 1 0 -2.6 0zM372.6 258.8a1.3 1.3 0 1 0 2.6 0a1.3 1.3 0 1 0 -2.6 0zM374.2 257.5a1.3 1.3 0 1 0 2.6 0a1.3 1.3 0 1 0 -2.6 0zM375.7 257.7a1.3 1.3 0 1 0 2.6 0a1.3 1.3 0 1 0 -2.6 0zM376.7 257.0a1.3 1.3 0 1 0 2.6 0a1.3 1.3 0 1 0 -2.6 0zM378.7 252.8a1.3 1.3 0 1 0 2.6 0a1.3 1.3 0 1 0 -2.6 0zM379.7 251.0a1.3 1.3 0 1 0 2.6 0a1.3 1.3 0 1 0 -2.6 0zM381.7 245.7a1.3 1.3 0 1 0 2.6 0a1.3 1.3 0 1 0 -2.6 0zM382.7 243.0a1.3 1.3 0 1 0 2.6 0a1.3 1.3 0 1 0 -2.6 0zM384.8 236.3a1.3 1.3 0 1 0 2.6 0a1.3 1.3 0 1 0 -2.6 0zM385.7 233.0a1.3 1.3 0 1 0 2.6 0a1.3 1.3 0 1 0 -2.6 0zM387.8 223.8a1.3 1.3 0 1 0 2.6 0a1.3 1.3 0 1 0 -2.6 0zM388.7 220.0a1.3 1.3 0 1 0 2.6 0a1.3 1.3 0 1 0 -2.6 0zM389.7 198.0a1.3 1.3 0 1 0 2.6 0a1.3 1.3 0 1 0 -2.6 0zM391.2 186.0a1.3 1.3 0 1 0 2.6 0a1.3 1.3 0 1 0 -2.6 0zM392.7 195.0a1.3 1.3 0 1 0 2.6 0a1.3 1.3 0 1 0 -2.6 0zM394.2 203.0a1.3 1.3 0 1 0 2.6 0a1.3 1.3 0 1 0 -2.6 0zM395.7 207.0a1.3 1.3 0 1 0 2.6 0a1.3 1.3 0 1 0 -2.6 0zM396.9 215.0a1.3 1.3 0 1 0 2.6 0a1.3 1.3 0 1 0 -2.6 0zM397.7 220.0a1.3 1.3 0 1 0 2.6 0a1.3 1.3 0 1 0 -2.6 0zM400.7 230.0a1.3 1.3 0 1 0 2.6 0a1.3 1.3 0 1 0 -2.6 0zM403.7 238.0a1.3 1.3 0 1 0 2.6 0a1.3 1.3 0 1 0 -2.6 0zM406.7 247.0a1.3 1.3 0 1 0 2.6 0a1.3 1.3 0 1 0 -2.6 0zM407.5 248.2a1.3 1.3 0 1 0 2.6 0a1.3 1.3 0 1 0 -2.6 0zM409.0 251.3a1.3 1.3 0 1 0 2.6 0a1.3 1.3 0 1 0 -2.6 0zM410.7 254.0a1.3 1.3 0 1 0 2.6 0a1.3 1.3 0 1 0 -2.6 0zM412.1 254.8a1.3 1.3 0 1 0 2.6 0a1.3 1.3 0 1 0 -2.6 0zM413.6 256.4a1.3 1.3 0 1 0 2.6 0a1.3 1.3 0 1 0 -2.6 0zM415.1 257.4a1.3 1.3 0 1 0 2.6 0a1.3 1.3 0 1 0 -2.6 0zM416.7 258.0a1.3 1.3 0 1 0 2.6 0a1.3 1.3 0 1 0 -2.6 0zM418.1 259.6a1.3 1.3 0 1 0 2.6 0a1.3 1.3 0 1 0 -2.6 0zM419.6 260.3a1.3 1.3 0 1 0 2.6 0a1.3 1.3 0 1 0 -2.6 0zM421.1 259.4a1.3 1.3 0 1 0 2.6 0a1.3 1.3 0 1 0 -2.6 0zM422.7 261.0a1.3 1.3 0 1 0 2.6 0a1.3 1.3 0 1 0 -2.6 0zM424.2 260.6a1.3 1.3 0 1 0 2.6 0a1.3 1.3 0 1 0 -2.6 0zM425.7 262.1a1.3 1.3 0 1 0 2.6 0a1.3 1.3 0 1 0 -2.6 0zM427.2 261.7a1.3 1.3 0 1 0 2.6 0a1.3 1.3 0 1 0 -2.6 0zM428.7 263.0a1.3 1.3 0 1 0 2.6 0a1.3 1.3 0 1 0 -2.6 0zM430.2 263.5a1.3 1.3 0 1 0 2.6 0a1.3 1.3 0 1 0 -2.6 0zM431.8 263.6a1.3 1.3 0 1 0 2.6 0a1.3 1.3 0 1 0 -2.6 0zM433.3 264.1a1.3 1.3 0 1 0 2.6 0a1.3 1.3 0 1 0 -2.6 0zM434.7 264.0a1.3 1.3 0 1 0 2.6 0a1.3 1.3 0 1 0 -2.6 0zM436.3 263.6a1.3 1.3 0 1 0 2.6 0a1.3 1.3 0 1 0 -2.6 0zM437.8 263.1a1.3 1.3 0 1 0 2.6 0a1.3 1.3 0 1 0 -2.6 0zM439.3 264.0a1.3 1.3 0 1 0 2.6 0a1.3 1.3 0 1 0 -2.6 0zM440.7 263.0a1.3 1.3 0 1 0 2.6 0a1.3 1.3 0 1 0 -2.6 0zM442.4 261.7a1.3 1.3 0 1 0 2.6 0a1.3 1.3 0 1 0 -2.6 0zM443.9 258.9a1.3 1.3 0 1 0 2.6 0a1.3 1.3 0 1 0 -2.6 0zM444.7 259.0a1.3 1.3 0 1 0 2.6 0a1.3 1.3 0 1 0 -2.6 0zM446.9 255.5a1.3 1.3 0 1 0 2.6 0a1.3 1.3 0 1 0 -2.6 0zM448.7 253.0a1.3 1.3 0 1 0 2.6 0a1.3 1.3 0 1 0 -2.6 0zM449.9 250.9a1.3 1.3 0 1 0 2.6 0a1.3 1.3 0 1 0 -2.6 0zM451.5 248.1a1.3 1.3 0 1 0 2.6 0a1.3 1.3 0 1 0 -2.6 0zM452.7 246.0a1.3 1.3 0 1 0 2.6 0a1.3 1.3 0 1 0 -2.6 0zM454.5 240.6a1.3 1.3 0 1 0 2.6 0a1.3 1.3 0 1 0 -2.6 0zM455.7 237.0a1.3 1.3 0 1 0 2.6 0a1.3 1.3 0 1 0 -2.6 0zM457.7 244.0a1.3 1.3 0 1 0 2.6 0a1.3 1.3 0 1 0 -2.6 0zM459.0 247.3a1.3 1.3 0 1 0 2.6 0a1.3 1.3 0 1 0 -2.6 0zM460.7 251.0a1.3 1.3 0 1 0 2.6 0a1.3 1.3 0 1 0 -2.6 0zM462.1 253.7a1.3 1.3 0 1 0 2.6 0a1.3 1.3 0 1 0 -2.6 0zM463.7 257.0a1.3 1.3 0 1 0 2.6 0a1.3 1.3 0 1 0 -2.6 0zM465.1 259.1a1.3 1.3 0 1 0 2.6 0a1.3 1.3 0 1 0 -2.6 0zM466.7 261.0a1.3 1.3 0 1 0 2.6 0a1.3 1.3 0 1 0 -2.6 0zM468.1 263.0a1.3 1.3 0 1 0 2.6 0a1.3 1.3 0 1 0 -2.6 0zM469.7 265.0a1.3 1.3 0 1 0 2.6 0a1.3 1.3 0 1 0 -2.6 0zM471.2 264.5a1.3 1.3 0 1 0 2.6 0a1.3 1.3 0 1 0 -2.6 0zM472.7 263.2a1.3 1.3 0 1 0 2.6 0a1.3 1.3 0 1 0 -2.6 0zM474.7 263.0a1.3 1.3 0 1 0 2.6 0a1.3 1.3 0 1 0 -2.6 0zM475.7 263.3a1.3 1.3 0 1 0 2.6 0a1.3 1.3 0 1 0 -2.6 0zM477.2 264.7a1.3 1.3 0 1 0 2.6 0a1.3 1.3 0 1 0 -2.6 0zM478.7 265.9a1.3 1.3 0 1 0 2.6 0a1.3 1.3 0 1 0 -2.6 0zM480.7 266.0a1.3 1.3 0 1 0 2.6 0a1.3 1.3 0 1 0 -2.6 0zM481.8 265.4a1.3 1.3 0 1 0 2.6 0a1.3 1.3 0 1 0 -2.6 0zM483.3 265.8a1.3 1.3 0 1 0 2.6 0a1.3 1.3 0 1 0 -2.6 0zM484.8 267.1a1.3 1.3 0 1 0 2.6 0a1.3 1.3 0 1 0 -2.6 0zM486.7 267.0a1.3 1.3 0 1 0 2.6 0a1.3 1.3 0 1 0 -2.6 0zM487.8 266.7a1.3 1.3 0 1 0 2.6 0a1.3 1.3 0 1 0 -2.6 0zM489.4 264.1a1.3 1.3 0 1 0 2.6 0a1.3 1.3 0 1 0 -2.6 0zM490.9 264.3a1.3 1.3 0 1 0 2.6 0a1.3 1.3 0 1 0 -2.6 0zM491.7 263.0a1.3 1.3 0 1 0 2.6 0a1.3 1.3 0 1 0 -2.6 0zM493.9 261.3a1.3 1.3 0 1 0 2.6 0a1.3 1.3 0 1 0 -2.6 0zM495.7 259.0a1.3 1.3 0 1 0 2.6 0a1.3 1.3 0 1 0 -2.6 0zM496.9 257.5a1.3 1.3 0 1 0 2.6 0a1.3 1.3 0 1 0 -2.6 0zM498.7 255.0a1.3 1.3 0 1 0 2.6 0a1.3 1.3 0 1 0 -2.6 0zM500.7 243.0a1.3 1.3 0 1 0 2.6 0a1.3 1.3 0 1 0 -2.6 0zM502.7 235.0a1.3 1.3 0 1 0 2.6 0a1.3 1.3 0 1 0 -2.6 0zM505.1 224.0a1.3 1.3 0 1 0 2.6 0a1.3 1.3 0 1 0 -2.6 0zM506.7 237.0a1.3 1.3 0 1 0 2.6 0a1.3 1.3 0 1 0 -2.6 0zM508.2 205.0a1.3 1.3 0 1 0 2.6 0a1.3 1.3 0 1 0 -2.6 0zM509.4 183.5a1.3 1.3 0 1 0 2.6 0a1.3 1.3 0 1 0 -2.6 0zM511.2 181.0a1.3 1.3 0 1 0 2.6 0a1.3 1.3 0 1 0 -2.6 0zM512.1 138.9a1.3 1.3 0 1 0 2.6 0a1.3 1.3 0 1 0 -2.6 0zM513.2 86.5a1.3 1.3 0 1 0 2.6 0a1.3 1.3 0 1 0 -2.6 0z" fill="#f5861f"/>
<polyline points="78.2,39.6 78.7,55.5 79.8,70.0 81.6,101.0 83.2,149.0 84.4,195.0 86.0,225.0 87.5,237.0 89.0,241.0 90.5,242.9 92.0,245.0 93.5,247.2 95.0,248.0 96.6,248.1 98.1,250.0 100.0,250.0 101.1,250.0 102.6,250.2 104.2,250.5 105.0,250.0 107.2,245.6 108.0,244.0 111.0,248.0 113.0,251.0 114.8,247.4 116.0,245.0 118.0,252.0 119.3,252.1 120.8,252.7 122.0,254.0 124.0,256.0 125.4,255.1 126.9,253.0 128.0,252.0 129.9,249.4 132.0,247.0 132.9,245.2 134.4,242.0 136.0,245.5 137.0,248.0 139.0,246.5 140.0,246.0 142.0,256.0 143.6,259.0 145.0,262.0 146.6,262.5 148.1,262.6 149.6,262.8 151.1,262.5 152.0,263.0 154.2,262.3 155.7,262.1 157.2,262.0 158.7,261.5 160.0,262.0 161.7,260.2 163.3,260.7 164.8,259.6 166.0,258.0 167.8,257.1 169.3,256.6 170.8,256.7 172.0,257.0 173.9,254.3 176.0,251.0 176.9,249.3 179.0,245.0 179.9,241.9 182.0,236.0 183.0,232.8 185.0,226.0 186.0,222.1 188.0,215.0 189.0,217.1 190.0,219.0 192.0,222.0 193.6,223.3 195.0,224.0 197.0,233.0 198.1,237.4 200.0,244.0 201.2,246.6 203.0,251.0 204.2,252.5 205.7,253.8 208.0,255.0 210.3,256.7 211.8,255.6 213.0,257.0 214.8,258.7 216.3,261.2 218.0,262.0 219.3,262.8 220.9,264.7 222.0,265.0 223.9,264.8 225.4,264.9 226.9,264.2 228.0,264.0 230.0,262.5 231.5,262.1 233.0,261.6 234.0,262.0 236.0,261.2 237.5,262.2 239.0,261.4 240.0,261.0 242.1,259.5 244.0,257.0 245.1,253.4 246.6,248.5 248.0,244.0 249.7,239.2 251.0,235.0 253.0,243.0 255.0,248.0 258.0,252.0 261.0,257.0 263.6,250.0 264.8,253.8 266.0,257.0 267.8,254.9 270.0,252.0 270.9,253.2 272.4,253.1 274.0,255.0 275.4,255.8 276.9,256.4 278.0,258.0 280.0,258.1 282.0,258.0 283.0,256.9 284.5,254.6 286.0,253.0 287.6,251.7 289.1,251.2 290.6,250.2 292.0,250.0 293.6,249.2 295.1,247.2 297.0,246.0 298.2,246.5 299.7,246.7 301.0,247.0 302.4,239.0 304.0,228.0 305.3,212.0 307.0,188.0 308.4,167.0 310.0,131.0 312.0,146.0 313.4,180.0 315.0,207.0 316.4,216.0 318.0,225.0 320.0,232.0 320.9,232.5 322.4,233.0 323.6,228.0 325.0,218.0 327.0,203.0 328.4,203.6 329.6,220.0 332.0,231.0 333.0,234.0 335.0,239.0 336.1,240.6 337.6,240.4 339.1,242.9 340.0,243.0 342.1,244.5 343.6,245.3 345.1,247.1 346.0,248.0 348.2,249.8 349.7,251.9 352.0,253.0 354.2,252.8 356.0,253.0 357.3,253.1 358.8,255.7 360.0,256.0 361.8,254.4 364.0,254.0 364.9,254.8 366.4,257.0 368.0,258.0 369.4,256.3 370.9,254.3 372.0,253.0 373.9,252.1 376.0,250.0 377.0,248.5 378.5,246.9 380.0,245.0 381.5,239.9 383.0,235.0 384.6,228.0 386.0,221.0 388.0,223.0 389.0,208.0 390.0,194.0 392.0,171.0 393.6,158.5 394.6,151.0 396.4,166.0 397.4,178.0 398.0,194.0 399.0,210.0 402.0,229.0 405.0,238.0 407.3,240.6 409.0,243.0 410.3,242.1 411.8,242.2 413.0,242.0 414.9,241.0 417.0,239.0 417.9,237.6 419.0,236.0 420.0,243.0 420.9,246.2 422.0,250.0 424.0,251.7 426.0,252.0 427.0,253.3 428.5,253.1 430.0,254.0 431.5,255.7 433.0,256.0 434.6,253.2 436.1,250.4 437.0,249.0 439.1,248.2 440.6,247.8 442.0,247.0 443.7,244.3 445.2,241.7 446.0,240.0 449.0,234.0 452.0,223.0 454.0,213.0 455.5,204.0 457.0,199.0 459.0,202.0 460.5,205.0 462.0,211.0 463.4,216.6 465.0,223.0 466.4,225.0 468.0,227.0 469.4,231.9 471.0,237.0 472.5,241.0 474.0,245.0 475.5,247.6 477.0,250.0 478.5,252.8 480.0,255.0 481.6,255.6 483.1,255.8 484.0,257.0 486.1,256.9 487.6,257.1 489.1,257.6 490.0,258.0 492.2,258.1 493.7,256.5 495.0,257.0 496.7,254.7 498.0,253.0 500.0,240.0 502.0,229.0 503.0,218.0 505.0,205.0 505.8,196.4 507.0,183.5 508.8,171.1 510.0,163.5 511.6,137.6 513.0,104.6 514.2,70.0" fill="none" stroke="#1a8f8f" stroke-width="1.3" stroke-linejoin="round"/>
<path d="M78.7 53.8l1.6 2.8h-3.2zM79.8 68.3l1.6 2.8h-3.2zM81.6 99.3l1.6 2.8h-3.2zM83.2 147.3l1.6 2.8h-3.2zM84.4 193.3l1.6 2.8h-3.2zM86.0 223.3l1.6 2.8h-3.2zM87.5 235.3l1.6 2.8h-3.2zM89.0 239.3l1.6 2.8h-3.2zM90.5 241.2l1.6 2.8h-3.2zM92.0 243.3l1.6 2.8h-3.2zM93.5 245.5l1.6 2.8h-3.2zM95.0 246.3l1.6 2.8h-3.2zM96.6 246.4l1.6 2.8h-3.2zM98.1 248.3l1.6 2.8h-3.2zM100.0 248.3l1.6 2.8h-3.2zM101.1 248.3l1.6 2.8h-3.2zM102.6 248.5l1.6 2.8h-3.2zM104.2 248.8l1.6 2.8h-3.2zM105.0 248.3l1.6 2.8h-3.2zM107.2 243.9l1.6 2.8h-3.2zM108.0 242.3l1.6 2.8h-3.2zM111.0 246.3l1.6 2.8h-3.2zM113.0 249.3l1.6 2.8h-3.2zM114.8 245.7l1.6 2.8h-3.2zM116.0 243.3l1.6 2.8h-3.2zM118.0 250.3l1.6 2.8h-3.2zM119.3 250.4l1.6 2.8h-3.2zM120.8 251.0l1.6 2.8h-3.2zM122.0 252.3l1.6 2.8h-3.2zM124.0 254.3l1.6 2.8h-3.2zM125.4 253.4l1.6 2.8h-3.2zM126.9 251.3l1.6 2.8h-3.2zM128.0 250.3l1.6 2.8h-3.2zM129.9 247.7l1.6 2.8h-3.2zM132.0 245.3l1.6 2.8h-3.2zM132.9 243.5l1.6 2.8h-3.2zM134.4 240.3l1.6 2.8h-3.2zM136.0 243.8l1.6 2.8h-3.2zM137.0 246.3l1.6 2.8h-3.2zM139.0 244.8l1.6 2.8h-3.2zM140.0 244.3l1.6 2.8h-3.2zM142.0 254.3l1.6 2.8h-3.2zM143.6 257.3l1.6 2.8h-3.2zM145.0 260.3l1.6 2.8h-3.2zM146.6 260.8l1.6 2.8h-3.2zM148.1 260.9l1.6 2.8h-3.2zM149.6 261.1l1.6 2.8h-3.2zM151.1 260.8l1.6 2.8h-3.2zM152.0 261.3l1.6 2.8h-3.2zM154.2 260.6l1.6 2.8h-3.2zM155.7 260.4l1.6 2.8h-3.2zM157.2 260.3l1.6 2.8h-3.2zM158.7 259.8l1.6 2.8h-3.2zM160.0 260.3l1.6 2.8h-3.2zM161.7 258.5l1.6 2.8h-3.2zM163.3 259.0l1.6 2.8h-3.2zM164.8 257.9l1.6 2.8h-3.2zM166.0 256.3l1.6 2.8h-3.2zM167.8 255.4l1.6 2.8h-3.2zM169.3 254.9l1.6 2.8h-3.2zM170.8 255.0l1.6 2.8h-3.2zM172.0 255.3l1.6 2.8h-3.2zM173.9 252.6l1.6 2.8h-3.2zM176.0 249.3l1.6 2.8h-3.2zM176.9 247.6l1.6 2.8h-3.2zM179.0 243.3l1.6 2.8h-3.2zM179.9 240.2l1.6 2.8h-3.2zM182.0 234.3l1.6 2.8h-3.2zM183.0 231.1l1.6 2.8h-3.2zM185.0 224.3l1.6 2.8h-3.2zM186.0 220.4l1.6 2.8h-3.2zM188.0 213.3l1.6 2.8h-3.2zM189.0 215.4l1.6 2.8h-3.2zM190.0 217.3l1.6 2.8h-3.2zM192.0 220.3l1.6 2.8h-3.2zM193.6 221.6l1.6 2.8h-3.2zM195.0 222.3l1.6 2.8h-3.2zM197.0 231.3l1.6 2.8h-3.2zM198.1 235.7l1.6 2.8h-3.2zM200.0 242.3l1.6 2.8h-3.2zM201.2 244.9l1.6 2.8h-3.2zM203.0 249.3l1.6 2.8h-3.2zM204.2 250.8l1.6 2.8h-3.2zM205.7 252.1l1.6 2.8h-3.2zM208.0 253.3l1.6 2.8h-3.2zM210.3 255.0l1.6 2.8h-3.2zM211.8 253.9l1.6 2.8h-3.2zM213.0 255.3l1.6 2.8h-3.2zM214.8 257.0l1.6 2.8h-3.2zM216.3 259.5l1.6 2.8h-3.2zM218.0 260.3l1.6 2.8h-3.2zM219.3 261.1l1.6 2.8h-3.2zM220.9 263.0l1.6 2.8h-3.2zM222.0 263.3l1.6 2.8h-3.2zM223.9 263.1l1.6 2.8h-3.2zM225.4 263.2l1.6 2.8h-3.2zM226.9 262.5l1.6 2.8h-3.2zM228.0 262.3l1.6 2.8h-3.2zM230.0 260.8l1.6 2.8h-3.2zM231.5 260.4l1.6 2.8h-3.2zM233.0 259.9l1.6 2.8h-3.2zM234.0 260.3l1.6 2.8h-3.2zM236.0 259.5l1.6 2.8h-3.2zM237.5 260.5l1.6 2.8h-3.2zM239.0 259.7l1.6 2.8h-3.2zM240.0 259.3l1.6 2.8h-3.2zM242.1 257.8l1.6 2.8h-3.2zM244.0 255.3l1.6 2.8h-3.2zM245.1 251.7l1.6 2.8h-3.2zM246.6 246.8l1.6 2.8h-3.2zM248.0 242.3l1.6 2.8h-3.2zM249.7 237.5l1.6 2.8h-3.2zM251.0 233.3l1.6 2.8h-3.2zM253.0 241.3l1.6 2.8h-3.2zM255.0 246.3l1.6 2.8h-3.2zM258.0 250.3l1.6 2.8h-3.2zM261.0 255.3l1.6 2.8h-3.2zM263.6 248.3l1.6 2.8h-3.2zM264.8 252.1l1.6 2.8h-3.2zM266.0 255.3l1.6 2.8h-3.2zM267.8 253.2l1.6 2.8h-3.2zM270.0 250.3l1.6 2.8h-3.2zM270.9 251.5l1.6 2.8h-3.2zM272.4 251.4l1.6 2.8h-3.2zM274.0 253.3l1.6 2.8h-3.2zM275.4 254.1l1.6 2.8h-3.2zM276.9 254.7l1.6 2.8h-3.2zM278.0 256.3l1.6 2.8h-3.2zM280.0 256.4l1.6 2.8h-3.2zM282.0 256.3l1.6 2.8h-3.2zM283.0 255.2l1.6 2.8h-3.2zM284.5 252.9l1.6 2.8h-3.2zM286.0 251.3l1.6 2.8h-3.2zM287.6 250.0l1.6 2.8h-3.2zM289.1 249.5l1.6 2.8h-3.2zM290.6 248.5l1.6 2.8h-3.2zM292.0 248.3l1.6 2.8h-3.2zM293.6 247.5l1.6 2.8h-3.2zM295.1 245.5l1.6 2.8h-3.2zM297.0 244.3l1.6 2.8h-3.2zM298.2 244.8l1.6 2.8h-3.2zM299.7 245.0l1.6 2.8h-3.2zM301.0 245.3l1.6 2.8h-3.2zM302.4 237.3l1.6 2.8h-3.2zM304.0 226.3l1.6 2.8h-3.2zM305.3 210.3l1.6 2.8h-3.2zM307.0 186.3l1.6 2.8h-3.2zM308.4 165.3l1.6 2.8h-3.2zM310.0 129.3l1.6 2.8h-3.2zM312.0 144.3l1.6 2.8h-3.2zM313.4 178.3l1.6 2.8h-3.2zM315.0 205.3l1.6 2.8h-3.2zM316.4 214.3l1.6 2.8h-3.2zM318.0 223.3l1.6 2.8h-3.2zM320.0 230.3l1.6 2.8h-3.2zM320.9 230.8l1.6 2.8h-3.2zM322.4 231.3l1.6 2.8h-3.2zM323.6 226.3l1.6 2.8h-3.2zM325.0 216.3l1.6 2.8h-3.2zM327.0 201.3l1.6 2.8h-3.2zM328.4 201.9l1.6 2.8h-3.2zM329.6 218.3l1.6 2.8h-3.2zM332.0 229.3l1.6 2.8h-3.2zM333.0 232.3l1.6 2.8h-3.2zM335.0 237.3l1.6 2.8h-3.2zM336.1 238.9l1.6 2.8h-3.2zM337.6 238.7l1.6 2.8h-3.2zM339.1 241.2l1.6 2.8h-3.2zM340.0 241.3l1.6 2.8h-3.2zM342.1 242.8l1.6 2.8h-3.2zM343.6 243.6l1.6 2.8h-3.2zM345.1 245.4l1.6 2.8h-3.2zM346.0 246.3l1.6 2.8h-3.2zM348.2 248.1l1.6 2.8h-3.2zM349.7 250.2l1.6 2.8h-3.2zM352.0 251.3l1.6 2.8h-3.2zM354.2 251.1l1.6 2.8h-3.2zM356.0 251.3l1.6 2.8h-3.2zM357.3 251.4l1.6 2.8h-3.2zM358.8 254.0l1.6 2.8h-3.2zM360.0 254.3l1.6 2.8h-3.2zM361.8 252.7l1.6 2.8h-3.2zM364.0 252.3l1.6 2.8h-3.2zM364.9 253.1l1.6 2.8h-3.2zM366.4 255.3l1.6 2.8h-3.2zM368.0 256.3l1.6 2.8h-3.2zM369.4 254.6l1.6 2.8h-3.2zM370.9 252.6l1.6 2.8h-3.2zM372.0 251.3l1.6 2.8h-3.2zM373.9 250.4l1.6 2.8h-3.2zM376.0 248.3l1.6 2.8h-3.2zM377.0 246.8l1.6 2.8h-3.2zM378.5 245.2l1.6 2.8h-3.2zM380.0 243.3l1.6 2.8h-3.2zM381.5 238.2l1.6 2.8h-3.2zM383.0 233.3l1.6 2.8h-3.2zM384.6 226.3l1.6 2.8h-3.2zM386.0 219.3l1.6 2.8h-3.2zM388.0 221.3l1.6 2.8h-3.2zM389.0 206.3l1.6 2.8h-3.2zM390.0 192.3l1.6 2.8h-3.2zM392.0 169.3l1.6 2.8h-3.2zM393.6 156.8l1.6 2.8h-3.2zM394.6 149.3l1.6 2.8h-3.2zM396.4 164.3l1.6 2.8h-3.2zM397.4 176.3l1.6 2.8h-3.2zM398.0 192.3l1.6 2.8h-3.2zM399.0 208.3l1.6 2.8h-3.2zM402.0 227.3l1.6 2.8h-3.2zM405.0 236.3l1.6 2.8h-3.2zM407.3 238.9l1.6 2.8h-3.2zM409.0 241.3l1.6 2.8h-3.2zM410.3 240.4l1.6 2.8h-3.2zM411.8 240.5l1.6 2.8h-3.2zM413.0 240.3l1.6 2.8h-3.2zM414.9 239.3l1.6 2.8h-3.2zM417.0 237.3l1.6 2.8h-3.2zM417.9 235.9l1.6 2.8h-3.2zM419.0 234.3l1.6 2.8h-3.2zM420.0 241.3l1.6 2.8h-3.2zM420.9 244.5l1.6 2.8h-3.2zM422.0 248.3l1.6 2.8h-3.2zM424.0 250.0l1.6 2.8h-3.2zM426.0 250.3l1.6 2.8h-3.2zM427.0 251.6l1.6 2.8h-3.2zM428.5 251.4l1.6 2.8h-3.2zM430.0 252.3l1.6 2.8h-3.2zM431.5 254.0l1.6 2.8h-3.2zM433.0 254.3l1.6 2.8h-3.2zM434.6 251.5l1.6 2.8h-3.2zM436.1 248.7l1.6 2.8h-3.2zM437.0 247.3l1.6 2.8h-3.2zM439.1 246.5l1.6 2.8h-3.2zM440.6 246.1l1.6 2.8h-3.2zM442.0 245.3l1.6 2.8h-3.2zM443.7 242.6l1.6 2.8h-3.2zM445.2 240.0l1.6 2.8h-3.2zM446.0 238.3l1.6 2.8h-3.2zM449.0 232.3l1.6 2.8h-3.2zM452.0 221.3l1.6 2.8h-3.2zM454.0 211.3l1.6 2.8h-3.2zM455.5 202.3l1.6 2.8h-3.2zM457.0 197.3l1.6 2.8h-3.2zM459.0 200.3l1.6 2.8h-3.2zM460.5 203.3l1.6 2.8h-3.2zM462.0 209.3l1.6 2.8h-3.2zM463.4 214.9l1.6 2.8h-3.2zM465.0 221.3l1.6 2.8h-3.2zM466.4 223.3l1.6 2.8h-3.2zM468.0 225.3l1.6 2.8h-3.2zM469.4 230.2l1.6 2.8h-3.2zM471.0 235.3l1.6 2.8h-3.2zM472.5 239.3l1.6 2.8h-3.2zM474.0 243.3l1.6 2.8h-3.2zM475.5 245.9l1.6 2.8h-3.2zM477.0 248.3l1.6 2.8h-3.2zM478.5 251.1l1.6 2.8h-3.2zM480.0 253.3l1.6 2.8h-3.2zM481.6 253.9l1.6 2.8h-3.2zM483.1 254.1l1.6 2.8h-3.2zM484.0 255.3l1.6 2.8h-3.2zM486.1 255.2l1.6 2.8h-3.2zM487.6 255.4l1.6 2.8h-3.2zM489.1 255.9l1.6 2.8h-3.2zM490.0 256.3l1.6 2.8h-3.2zM492.2 256.4l1.6 2.8h-3.2zM493.7 254.8l1.6 2.8h-3.2zM495.0 255.3l1.6 2.8h-3.2zM496.7 253.0l1.6 2.8h-3.2zM498.0 251.3l1.6 2.8h-3.2zM500.0 238.3l1.6 2.8h-3.2zM502.0 227.3l1.6 2.8h-3.2zM503.0 216.3l1.6 2.8h-3.2zM505.0 203.3l1.6 2.8h-3.2zM505.8 194.7l1.6 2.8h-3.2zM507.0 181.8l1.6 2.8h-3.2zM508.8 169.4l1.6 2.8h-3.2zM510.0 161.8l1.6 2.8h-3.2zM511.6 135.9l1.6 2.8h-3.2zM513.0 102.9l1.6 2.8h-3.2zM514.2 68.3l1.6 2.8h-3.2z" fill="#1a8f8f"/>
<path d="M93 59.1H123.1" stroke="#454545" stroke-width="1.4"/><path d="M106.8 57.9h2.4v2.4h-2.4z" fill="#454545"/><text x="126.2" y="63.4" class="lg">Morphine</text><path d="M93 75.5H123.1" stroke="#f5861f" stroke-width="1.4"/><path d="M106.7 75.5a1.3 1.3 0 1 0 2.6 0a1.3 1.3 0 1 0 -2.6 0z" fill="#f5861f"/><text x="126.2" y="79.8" class="lg">PZM21</text><path d="M93 91.9H123.1" stroke="#1a8f8f" stroke-width="1.4"/><path d="M108.0 90.2l1.6 2.8h-3.2z" fill="#1a8f8f"/><text x="126.2" y="96.2" class="lg">TRV130</text>
<text x="54" y="290.4" text-anchor="end" class="tk">0</text><text x="54" y="249.2" text-anchor="end" class="tk">1</text><text x="54" y="208.1" text-anchor="end" class="tk">2</text><text x="54" y="167.0" text-anchor="end" class="tk">3</text><text x="54" y="125.8" text-anchor="end" class="tk">4</text><text x="54" y="84.7" text-anchor="end" class="tk">5</text><text x="54" y="43.5" text-anchor="end" class="tk">6</text><text x="79.9" y="308.2" text-anchor="middle" class="tk">60</text><text x="110.2" y="308.2" text-anchor="middle" class="tk">80</text><text x="140.5" y="308.2" text-anchor="middle" class="tk">100</text><text x="170.8" y="308.2" text-anchor="middle" class="tk">120</text><text x="201.2" y="308.2" text-anchor="middle" class="tk">140</text><text x="231.5" y="308.2" text-anchor="middle" class="tk">160</text><text x="261.8" y="308.2" text-anchor="middle" class="tk">180</text><text x="292.1" y="308.2" text-anchor="middle" class="tk">200</text><text x="322.4" y="308.2" text-anchor="middle" class="tk">220</text><text x="352.7" y="308.2" text-anchor="middle" class="tk">240</text><text x="383.0" y="308.2" text-anchor="middle" class="tk">260</text><text x="413.4" y="308.2" text-anchor="middle" class="tk">280</text><text x="443.7" y="308.2" text-anchor="middle" class="tk">300</text><text x="474.0" y="308.2" text-anchor="middle" class="tk">320</text><text x="504.3" y="308.2" text-anchor="middle" class="tk">340</text><text x="534.6" y="308.2" text-anchor="middle" class="tk">360</text>
<text x="303.5" y="332.7" text-anchor="middle" class="al">Residue Index</text><text transform="translate(17.8 175) rotate(-90)" text-anchor="middle" class="al">RMSF (Å)</text>
</svg>
</body></html>
